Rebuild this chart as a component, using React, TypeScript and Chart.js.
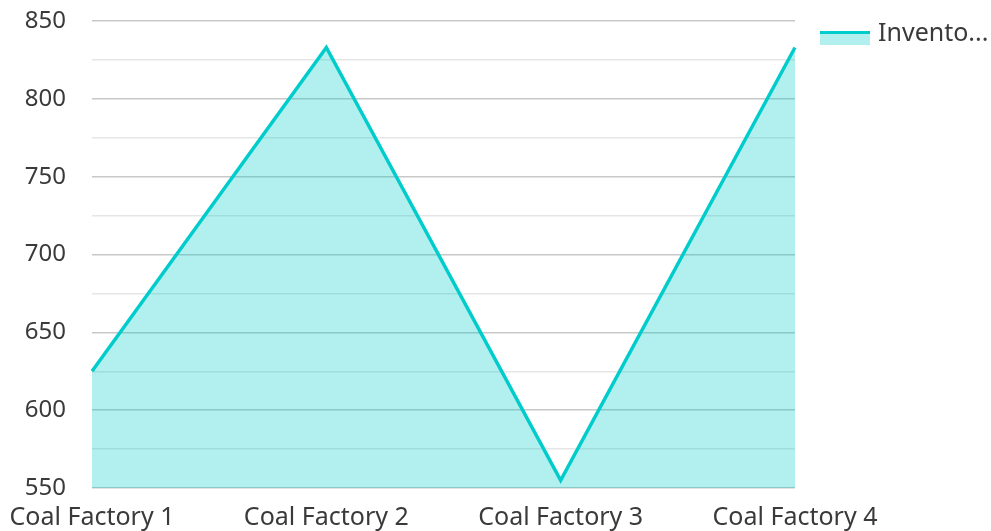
import React, { useEffect, useRef } from "react";
import { Chart, registerables } from "chart.js";

Chart.register(...registerables);

const categories = ["Coal Factory 1", "Coal Factory 2", "Coal Factory 3", "Coal Factory 4"];
const inventory = [625, 833, 555, 833];
const seriesLabel = "Inventory";
const legendText = "Invento...";

const LINE = "rgb(0, 204, 204)";
const FILL = "rgba(0, 204, 204, 0.3)";
const FONT = "'Noto Sans', sans-serif";
const TEXT = "#3a3a3a";

const legendPlugin = {
  id: "customLegend",
  afterDraw(chart: any) {
    const ctx = chart.ctx;
    const x = 820;
    const y = 31;
    ctx.save();
    ctx.fillStyle = FILL;
    ctx.fillRect(x, y, 50, 14);
    ctx.fillStyle = LINE;
    ctx.fillRect(x, y, 50, 3);
    ctx.fillStyle = TEXT;
    ctx.font = `25px ${FONT}`;
    ctx.textBaseline = "middle";
    ctx.textAlign = "left";
    ctx.fillText(legendText, 878, 34);
    ctx.restore();
  },
};

export default function App() {
  const ref = useRef<HTMLCanvasElement>(null);
  useEffect(() => {
    document.body.style.margin = "0";
    const chart = new Chart(ref.current!, {
      type: "line",
      data: {
        labels: categories,
        datasets: [
          {
            label: seriesLabel,
            data: inventory,
            borderColor: LINE,
            backgroundColor: FILL,
            borderWidth: 3.5,
            fill: "start",
            pointRadius: 0,
            tension: 0,
          },
        ],
      },
      options: {
        animation: false,
        responsive: true,
        maintainAspectRatio: false,
        layout: { padding: { top: 21, right: 196, left: 0, bottom: 0 } },
        plugins: { legend: { display: false }, tooltip: { enabled: false } },
        scales: {
          x: {
            offset: false,
            grid: { display: false },
            border: { display: false },
            ticks: { color: TEXT, font: { family: FONT, size: 25 }, maxRotation: 0, autoSkip: false, padding: 7 },
            afterFit(scale: any) {
              scale.height = 43;
              scale.paddingTop = 0;
            },
          },
          y: {
            min: 550,
            max: 850,
            border: { display: false },
            grid: {
              drawTicks: false,
              color: (c: any) => (c.tick && c.tick.value % 50 === 0 ? "#c8c8c8" : "#e6e6e6"),
              lineWidth: 1.5,
            },
            ticks: {
              stepSize: 25,
              color: TEXT,
              padding: 26,
              font: { family: FONT, size: 24 },
              callback: (v: any) => (Number(v) % 50 === 0 ? String(v) : ""),
            },
            afterFit(scale: any) {
              scale.width = 92;
              scale.paddingTop = 0;
            },
          },
        },
      },
      plugins: [legendPlugin],
    });
    return () => chart.destroy();
  }, []);
  return (
    <div style={{ width: 991, height: 531, position: "relative" }}>
      <canvas ref={ref} />
    </div>
  );
}
